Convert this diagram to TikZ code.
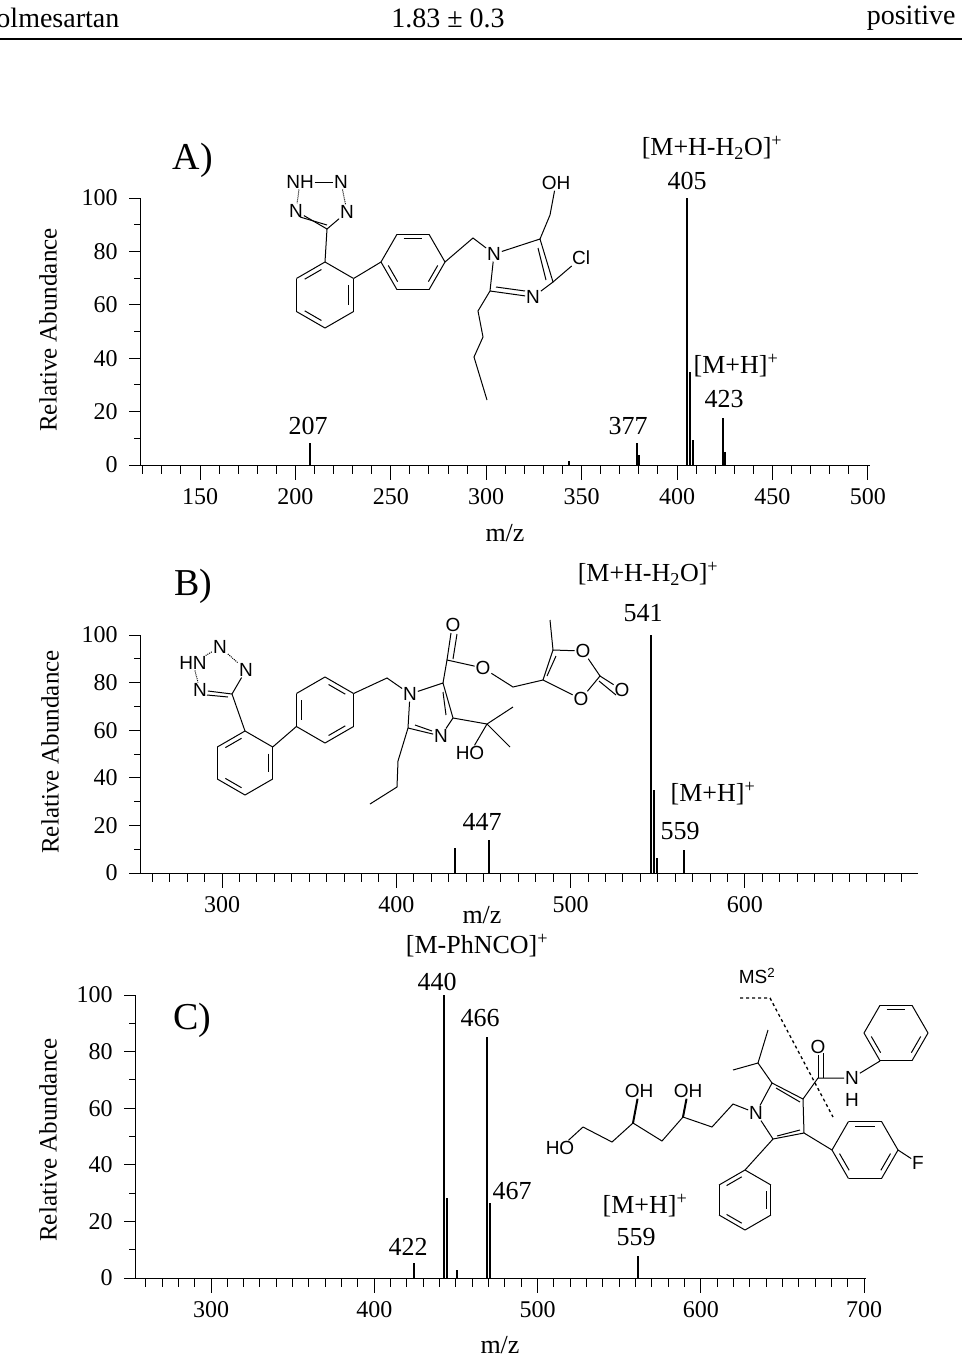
\documentclass[tikz,border=0pt]{standalone}
\usepackage{fontspec}
\setmainfont{Liberation Serif}
\newfontfamily\chemf{Liberation Sans}
\usetikzlibrary{calc}
\newcommand\benz[4]{%
 \foreach \i in {0,...,5}{\draw ($(#1,#2)+(#4+60*\i:#3)$) -- ($(#1,#2)+(#4+60*\i+60:#3)$);}
 \foreach \i in {0,2,4}{\draw ($(#1,#2)+(#4+60*\i+8:#3*0.78)$) -- ($(#1,#2)+(#4+60*\i+52:#3*0.78)$);}}
\begin{document}
\begin{tikzpicture}[x=1pt,y=-1pt,line width=1pt,
 lab/.style={font=\fontsize{26}{26}\selectfont,inner sep=0pt},
 hd/.style={font=\fontsize{28}{28}\selectfont,inner sep=0pt},
 tl/.style={font=\fontsize{24}{24}\selectfont,inner sep=0pt},
 ch/.style={font=\chemf\fontsize{19}{19}\selectfont,inner sep=0.5pt,fill=white},
 pk/.style={line width=1.6pt},
 yl/.style={font=\fontsize{25}{25}\selectfont,rotate=90,inner sep=0pt}]
\useasboundingbox (0,0) rectangle (962,1360);
\fill[white] (0,0) rectangle (962,1360);
% header
\node[hd,anchor=west] (h1) at (-4,18) {olmesartan};
\node[hd] (h2) at (448,18) {1.83 ± 0.3};
\node[hd,anchor=east] (h3) at (956,18) {positive};
\draw[line width=2pt] (0,39) -- (962,39);

%================ A
\draw (140,198) -- (140,465) -- (870,465);
\foreach \m in {120,130,...,500}{\pgfmathsetmacro\px{200+(\m-150)*1.908}
 \pgfmathsetmacro\l{ifthenelse(mod(\m,50)==0,15,9)}\draw (\px,465) -- ++(0,\l);}
\foreach \m in {150,200,...,500}{\pgfmathsetmacro\px{200+(\m-150)*1.908}\node[tl] at (\px,497) {\m};}
\foreach \p in {0,10,...,100}{\pgfmathsetmacro\py{465-2.67*\p}
 \pgfmathsetmacro\l{ifthenelse(mod(\p,20)==0,11,6)}\draw (140,\py) -- ++(-\l,0);}
\foreach \p in {0,20,...,100}{\pgfmathsetmacro\py{465-2.67*\p}\node[tl,anchor=east] at (118,\py) {\p};}
\node[yl] (ya) at (48,330) {Relative Abundance};
\node[lab] (xa) at (505,533) {m/z};
\node[font=\fontsize{38}{38}\selectfont,inner sep=0pt] (A) at (193,160) {A)};
\draw[pk] (310,465) -- (310,443);
\draw[pk] (569,465) -- (569,461);
\draw[pk] (637,465) -- (637,443);
\draw[pk] (639,465) -- (639,455);
\draw[pk] (687,465) -- (687,198);
\draw[pk] (690,465) -- (690,372);
\draw[pk] (693,465) -- (693,440);
\draw[pk] (723,465) -- (723,418);
\draw[pk] (725,465) -- (725,452);
\node[lab] at (712,148) {[M+H-H\textsubscript{2}O]\textsuperscript{+}};
\node[lab] at (687,181) {405};
\node[lab] at (736,366) {[M+H]\textsuperscript{+}};
\node[lab] at (724,399) {423};
\node[lab] at (308,426) {207};
\node[lab] at (628,426) {377};
% structure A
\node[ch] (a1) at (300,182) {NH};
\node[ch] (a2) at (341,182) {N};
\node[ch] (a3) at (296,211) {N};
\node[ch] (a4) at (347,212) {N};
\coordinate (a5) at (327,229);
\draw (a1) -- (a2); \draw[densely dotted] (a1) -- (a3); \draw[densely dotted] (a2) -- (a4);
\draw (a3) -- (a5) -- (a4); \draw ($(a3)+(4,6)$) -- ($(a5)+(0,-4)$);
\benz{325}{295}{33}{90}
\draw (a5) -- (325,262);
\benz{413}{262}{32}{0}
\draw (353.6,278.5) -- (381,262);
\node[ch] (an) at (494,254) {N};
\draw (445,262) -- (473,238) -- (an);
\coordinate (ac5) at (540,239); \coordinate (ac4) at (553,282); \coordinate (ac2) at (490,291);
\node[ch] (an3) at (533,297) {N};
\draw (an) -- (ac5) -- (ac4) -- (an3) -- (ac2) -- (an);
\draw ($(ac5)+(-2,9)$) -- ($(ac4)+(-7,-2)$);
\draw ($(ac2)+(6,-4)$) -- ($(an3)+(-8,-6)$);
\node[ch] (acl) at (581,258) {Cl};
\draw (ac4) -- (acl);
\node[ch] (aoh) at (556,183) {OH};
\draw (ac5) -- (550,215) -- (aoh);
\draw (ac2) -- (478,311) -- (483,337) -- (474,357) -- (487,400);

%================ B
\draw (140,635) -- (140,873) -- (918,873);
\foreach \m in {260,270,...,690}{\pgfmathsetmacro\px{222+(\m-300)*1.743}
 \pgfmathsetmacro\l{ifthenelse(mod(\m,100)==0,15,9)}\draw (\px,873) -- ++(0,\l);}
\foreach \m in {300,400,500,600}{\pgfmathsetmacro\px{222+(\m-300)*1.743}\node[tl] at (\px,905) {\m};}
\foreach \p in {0,10,...,100}{\pgfmathsetmacro\py{873-2.38*\p}
 \pgfmathsetmacro\l{ifthenelse(mod(\p,20)==0,11,6)}\draw (140,\py) -- ++(-\l,0);}
\foreach \p in {0,20,...,100}{\pgfmathsetmacro\py{873-2.38*\p}\node[tl,anchor=east] at (118,\py) {\p};}
\node[yl] (yb) at (50,752) {Relative Abundance};
\node[lab] (xb) at (482,915) {m/z};
\node[font=\fontsize{38}{38}\selectfont,inner sep=0pt] (B) at (193,586) {B)};
\draw[pk] (455,873) -- (455,848);
\draw[pk] (489,873) -- (489,840);
\draw[pk] (651,873) -- (651,635);
\draw[pk] (654,873) -- (654,790);
\draw[pk] (657,873) -- (657,858);
\draw[pk] (684,873) -- (684,850);
\node[lab] at (648,574) {[M+H-H\textsubscript{2}O]\textsuperscript{+}};
\node[lab] at (643,613) {541};
\node[lab] at (713,794) {[M+H]\textsuperscript{+}};
\node[lab] at (680,831) {559};
\node[lab] at (482,822) {447};
% structure B
\node[ch] (b1) at (193,663) {HN};
\node[ch] (b2) at (220,647) {N};
\node[ch] (b3) at (246,670) {N};
\node[ch] (b4) at (200,690) {N};
\coordinate (b5) at (232,694);
\draw[densely dotted] (b1) -- (b2); \draw[densely dotted] (b2) -- (b3); \draw[densely dotted] (b1) -- (b4);
\draw (b3) -- (b5); \draw (b4) -- (b5); \draw ($(b4)+(7,5)$) -- ($(b5)+(-4,3)$);
\benz{245}{763}{32}{90}
\draw (b5) -- (245,731);
\benz{325}{710}{33}{30}
\draw (272.7,747) -- (296.4,726.5);
\node[ch] (bn) at (410,694) {N};
\draw (353.6,693.5) -- (387,678) -- (bn);
\coordinate (bc5) at (443,683); \coordinate (bc4) at (453,718); \coordinate (bc2) at (408,728);
\node[ch] (bn3) at (441,736) {N};
\draw (bn) -- (bc5) -- (bc4) -- (bn3) -- (bc2) -- (bn);
\draw ($(bc5)+(0,9)$) -- ($(bc4)+(-7,-3)$);
\draw ($(bc2)+(7,-3)$) -- ($(bn3)+(-9,-5)$);
\coordinate (bcc) at (447,660);
\node[ch] (bo1) at (453,625) {O};
\node[ch] (bo2) at (483,668) {O};
\draw (bc5) -- (bcc) -- (bo2);
\draw (bcc) -- ($(bo1)+(-2,8)$); \draw ($(bcc)+(6,-1)$) -- ($(bo1)+(4,9)$);
\coordinate (bch) at (513,687); \coordinate (bd1) at (543,680); \coordinate (bd2) at (553,650);
\node[ch] (bo3) at (583,651) {O}; \node[ch] (bo4) at (581,699) {O};
\coordinate (bd3) at (600,676);
\node[ch] (bo5) at (622,690) {O};
\draw (bo2) -- (bch) -- (bd1) -- (bd2) -- (bo3) -- (bd3) -- (bo4) -- (bd1);
\draw ($(bd1)+(4,-4)$) -- ($(bd2)+(3,6)$);
\draw (bd3) -- (bo5); \draw ($(bd3)+(-1,5)$) -- ($(bo5)+(-6,5)$);
\draw (bd2) -- (550,620);
\coordinate (bq) at (487,724);
\draw (bc4) -- (bq) -- (513,707); \draw (bq) -- (510,747);
\node[ch] (bho) at (470,753) {HO};
\draw (bq) -- (bho);
\draw (bc2) -- (398,761) -- (397,787) -- (370,804);

%================ C
\draw (135,995) -- (135,1278) -- (866,1278);
\foreach \m in {260,270,...,700}{\pgfmathsetmacro\px{211+(\m-300)*1.633}
 \pgfmathsetmacro\l{ifthenelse(mod(\m,100)==0,15,9)}\draw (\px,1278) -- ++(0,\l);}
\foreach \m in {300,400,500,600,700}{\pgfmathsetmacro\px{211+(\m-300)*1.633}\node[tl] at (\px,1310) {\m};}
\foreach \p in {0,10,...,100}{\pgfmathsetmacro\py{1278-2.83*\p}
 \pgfmathsetmacro\l{ifthenelse(mod(\p,20)==0,11,6)}\draw (135,\py) -- ++(-\l,0);}
\foreach \p in {0,20,...,100}{\pgfmathsetmacro\py{1278-2.83*\p}\node[tl,anchor=east] at (113,\py) {\p};}
\node[yl] (yc) at (48,1140) {Relative Abundance};
\node[lab] (xc) at (500,1345) {m/z};
\node[font=\fontsize{38}{38}\selectfont,inner sep=0pt] (C) at (192,1020) {C)};
\draw[pk] (414,1278) -- (414,1263);
\draw[pk] (444,1278) -- (444,995);
\draw[pk] (447,1278) -- (447,1198);
\draw[pk] (457,1278) -- (457,1270);
\draw[pk] (487,1278) -- (487,1037);
\draw[pk] (490,1278) -- (490,1203);
\draw[pk] (638,1278) -- (638,1256);
\node[lab] at (477,946) {[M-PhNCO]\textsuperscript{+}};
\node[lab] at (437,982) {440};
\node[lab] at (480,1018) {466};
\node[lab] at (512,1191) {467};
\node[lab] at (645,1206) {[M+H]\textsuperscript{+}};
\node[lab] at (636,1237) {559};
\node[lab] at (408,1247) {422};
% structure C
\node[ch] (cms) at (757,976) {MS\textsuperscript{2}};
\coordinate (cd1) at (740,998); \coordinate (cd2) at (770,998); \coordinate (cd3) at (833,1117);
\draw[dashed,line width=1.3pt] (cd1) -- (cd2) -- (cd3);
\node[ch] (cn) at (756,1113) {N};
\coordinate (cc2) at (772,1083); \coordinate (cc3) at (803,1099); \coordinate (cc4) at (804,1133); \coordinate (cc5) at (773,1139);
\draw (cn) -- (cc2) -- (cc3) -- (cc4) -- (cc5) -- (cn);
\draw ($(cc2)+(4,5)$) -- ($(cc3)+(-3,3)$);
\draw ($(cc5)+(4,-3)$) -- ($(cc4)+(-4,-3)$);
\coordinate (cip) at (758,1063);
\draw (cc2) -- (cip) -- (768,1030); \draw (cip) -- (733,1070);
\coordinate (cam) at (818,1078);
\node[ch] (co) at (818,1047) {O};
\node[ch] (cnh) at (852,1078) {N};
\node[ch] (ch) at (852,1100) {H};
\draw (cc3) -- (cam) -- (cnh); \draw (cam) -- (co); \draw ($(cam)+(5,0)$) -- ($(co)+(5,6)$);
\benz{896}{1033}{32}{0}
\draw (cnh) -- (880,1061);
\benz{865}{1150}{33}{0}
\draw (cc4) -- (832,1150);
\node[ch] (cf) at (918,1163) {F};
\draw (898,1150) -- (cf);
\benz{745}{1200}{30}{90}
\draw (cc5) -- (745,1170);
\draw (cn) -- (733,1104) -- (712,1127) -- (683,1117) -- (662,1141) -- (633,1123) -- (612,1142) -- (583,1127);
\node[ch] (coh1) at (688,1091) {OH};
\node[ch] (coh2) at (639,1091) {OH};
\draw[line width=2pt] (683,1117) -- (coh1);
\draw[line width=2pt] (633,1123) -- (coh2);
\node[ch] (cho) at (560,1148) {HO};
\draw (583,1127) -- (cho);
\end{tikzpicture}
\end{document}
